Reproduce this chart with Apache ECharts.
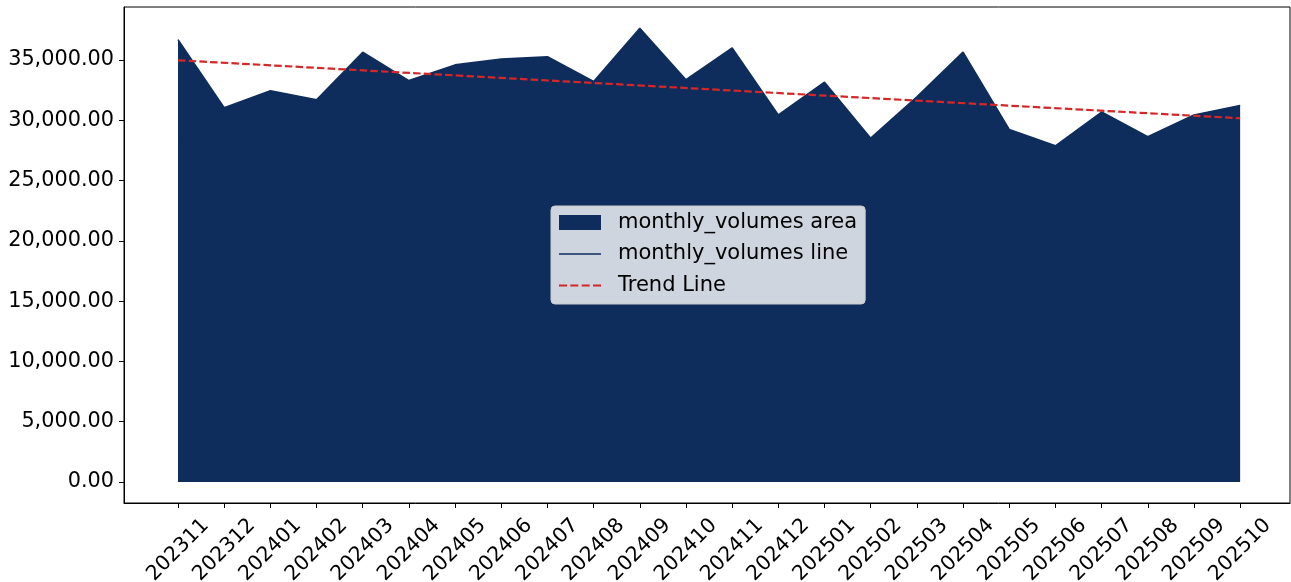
<!DOCTYPE html>
<html>
<head>
<meta charset="utf-8">
<script src="https://cdn.jsdelivr.net/npm/echarts@6/dist/echarts.min.js"></script>
<style>
  html, body { margin: 0; padding: 0; background: #fff; }
  #main { width: 1291px; height: 582px; }
</style>
</head>
<body>
<div id="main"></div>
<script>
// months on the x axis
var months = ['202311','202312','202401','202402','202403','202404','202405','202406',
  '202407','202408','202409','202410','202411','202412','202501','202502',
  '202503','202504','202505','202506','202507','202508','202509','202510'];
// monthly volumes
var volumes = [36700, 31050, 32450, 31700, 35650, 33300, 34600, 35080,
  35270, 33230, 37630, 33370, 36000, 30450, 33170, 28520,
  31950, 35660, 29250, 27890, 30690, 28640, 30450, 31240];
// trend line end points (first and last month)
var trendStart = 34980;
var trendEnd = 30170;
var yTicks = [0, 5000, 10000, 15000, 20000, 25000, 30000, 35000];

var navy = '#0e2d5c';
var red = '#d62728';
var font = 'DejaVu Sans';

function fmt(v){
  var parts = v.toFixed(2).split('.');
  parts[0] = parts[0].replace(/\B(?=(\d{3})+(?!\d))/g, ',');
  return parts.join('.');
}

var xTicks = months.map(function(m, i){ return i; });
var volData = months.map(function(m, i){ return [i, volumes[i]]; });
var trendData = [[0, trendStart], [months.length - 1, trendEnd]];

var chart = echarts.init(document.getElementById('main'), null, {renderer: 'canvas'});
var option = {
  animation: false,
  textStyle: { fontFamily: font },
  grid: {
    left: 124, right: 1, top: 7, bottom: 79,
    outerBoundsMode: 'none',
    containLabel: false,
    show: true, borderColor: '#000', borderWidth: 1, backgroundColor: 'transparent'
  },
  legend: {
    orient: 'vertical',
    left: 551, top: 206,
    padding: [6, 8, 8, 8],
    itemWidth: 42, itemHeight: 15,
    itemGap: 10.5,
    backgroundColor: 'rgba(255,255,255,0.8)',
    borderColor: '#cccccc', borderWidth: 1, borderRadius: 4,
    textStyle: { fontFamily: font, fontSize: 21, color: '#000', padding: [0, 0, 0, 12] },
    data: [
      { name: 'monthly_volumes area', icon: 'rect', itemStyle: { color: navy, borderWidth: 0 } },
      { name: 'monthly_volumes line', icon: 'path://M0,0H42V1.5H0Z', itemStyle: { color: navy, borderWidth: 0 } },
      { name: 'Trend Line', icon: 'path://M0,0h8v2h-8z M11.3,0h8v2h-8z M22.7,0h8v2h-8z M34,0h8v2h-8z', itemStyle: { color: red, borderWidth: 0 } }
    ]
  },
  xAxis: {
    type: 'value',
    min: -1.17, max: 24.08,
    axisLine: { show: true, onZero: false, lineStyle: { color: '#000', width: 1 } },
    axisTick: { show: true, customValues: xTicks, length: 5, lineStyle: { color: '#000', width: 1 } },
    axisLabel: {
      customValues: xTicks,
      formatter: function(v){ return months[v]; },
      rotate: 45,
      align: 'center',
      verticalAlign: 'middle',
      margin: 47,
      fontFamily: font, fontSize: 20.5, color: '#000'
    },
    splitLine: { show: false }
  },
  yAxis: {
    type: 'value',
    min: -1745, max: 39400,
    axisLine: { show: true, onZero: false, lineStyle: { color: '#000', width: 1 } },
    axisTick: { show: true, customValues: yTicks, length: 5, lineStyle: { color: '#000', width: 1 } },
    axisLabel: {
      customValues: yTicks,
      formatter: fmt,
      margin: 10,
      fontFamily: font, fontSize: 20.8, color: '#000'
    },
    splitLine: { show: false }
  },
  series: [
    {
      name: 'monthly_volumes area',
      type: 'line',
      symbol: 'none',
      data: volData,
      color: navy,
      lineStyle: { width: 0 },
      areaStyle: { color: navy, opacity: 1, origin: 0 },
      z: 1
    },
    {
      name: 'monthly_volumes line',
      type: 'line',
      symbol: 'none',
      data: volData,
      color: navy,
      lineStyle: { color: navy, width: 1.5 },
      z: 2
    },
    {
      name: 'Trend Line',
      type: 'line',
      symbol: 'none',
      data: trendData,
      color: red,
      lineStyle: { color: red, width: 2.2, type: [7.5, 3.2] },
      z: 3
    }
  ]
};
option && chart.setOption(option);
</script>
</body>
</html>
